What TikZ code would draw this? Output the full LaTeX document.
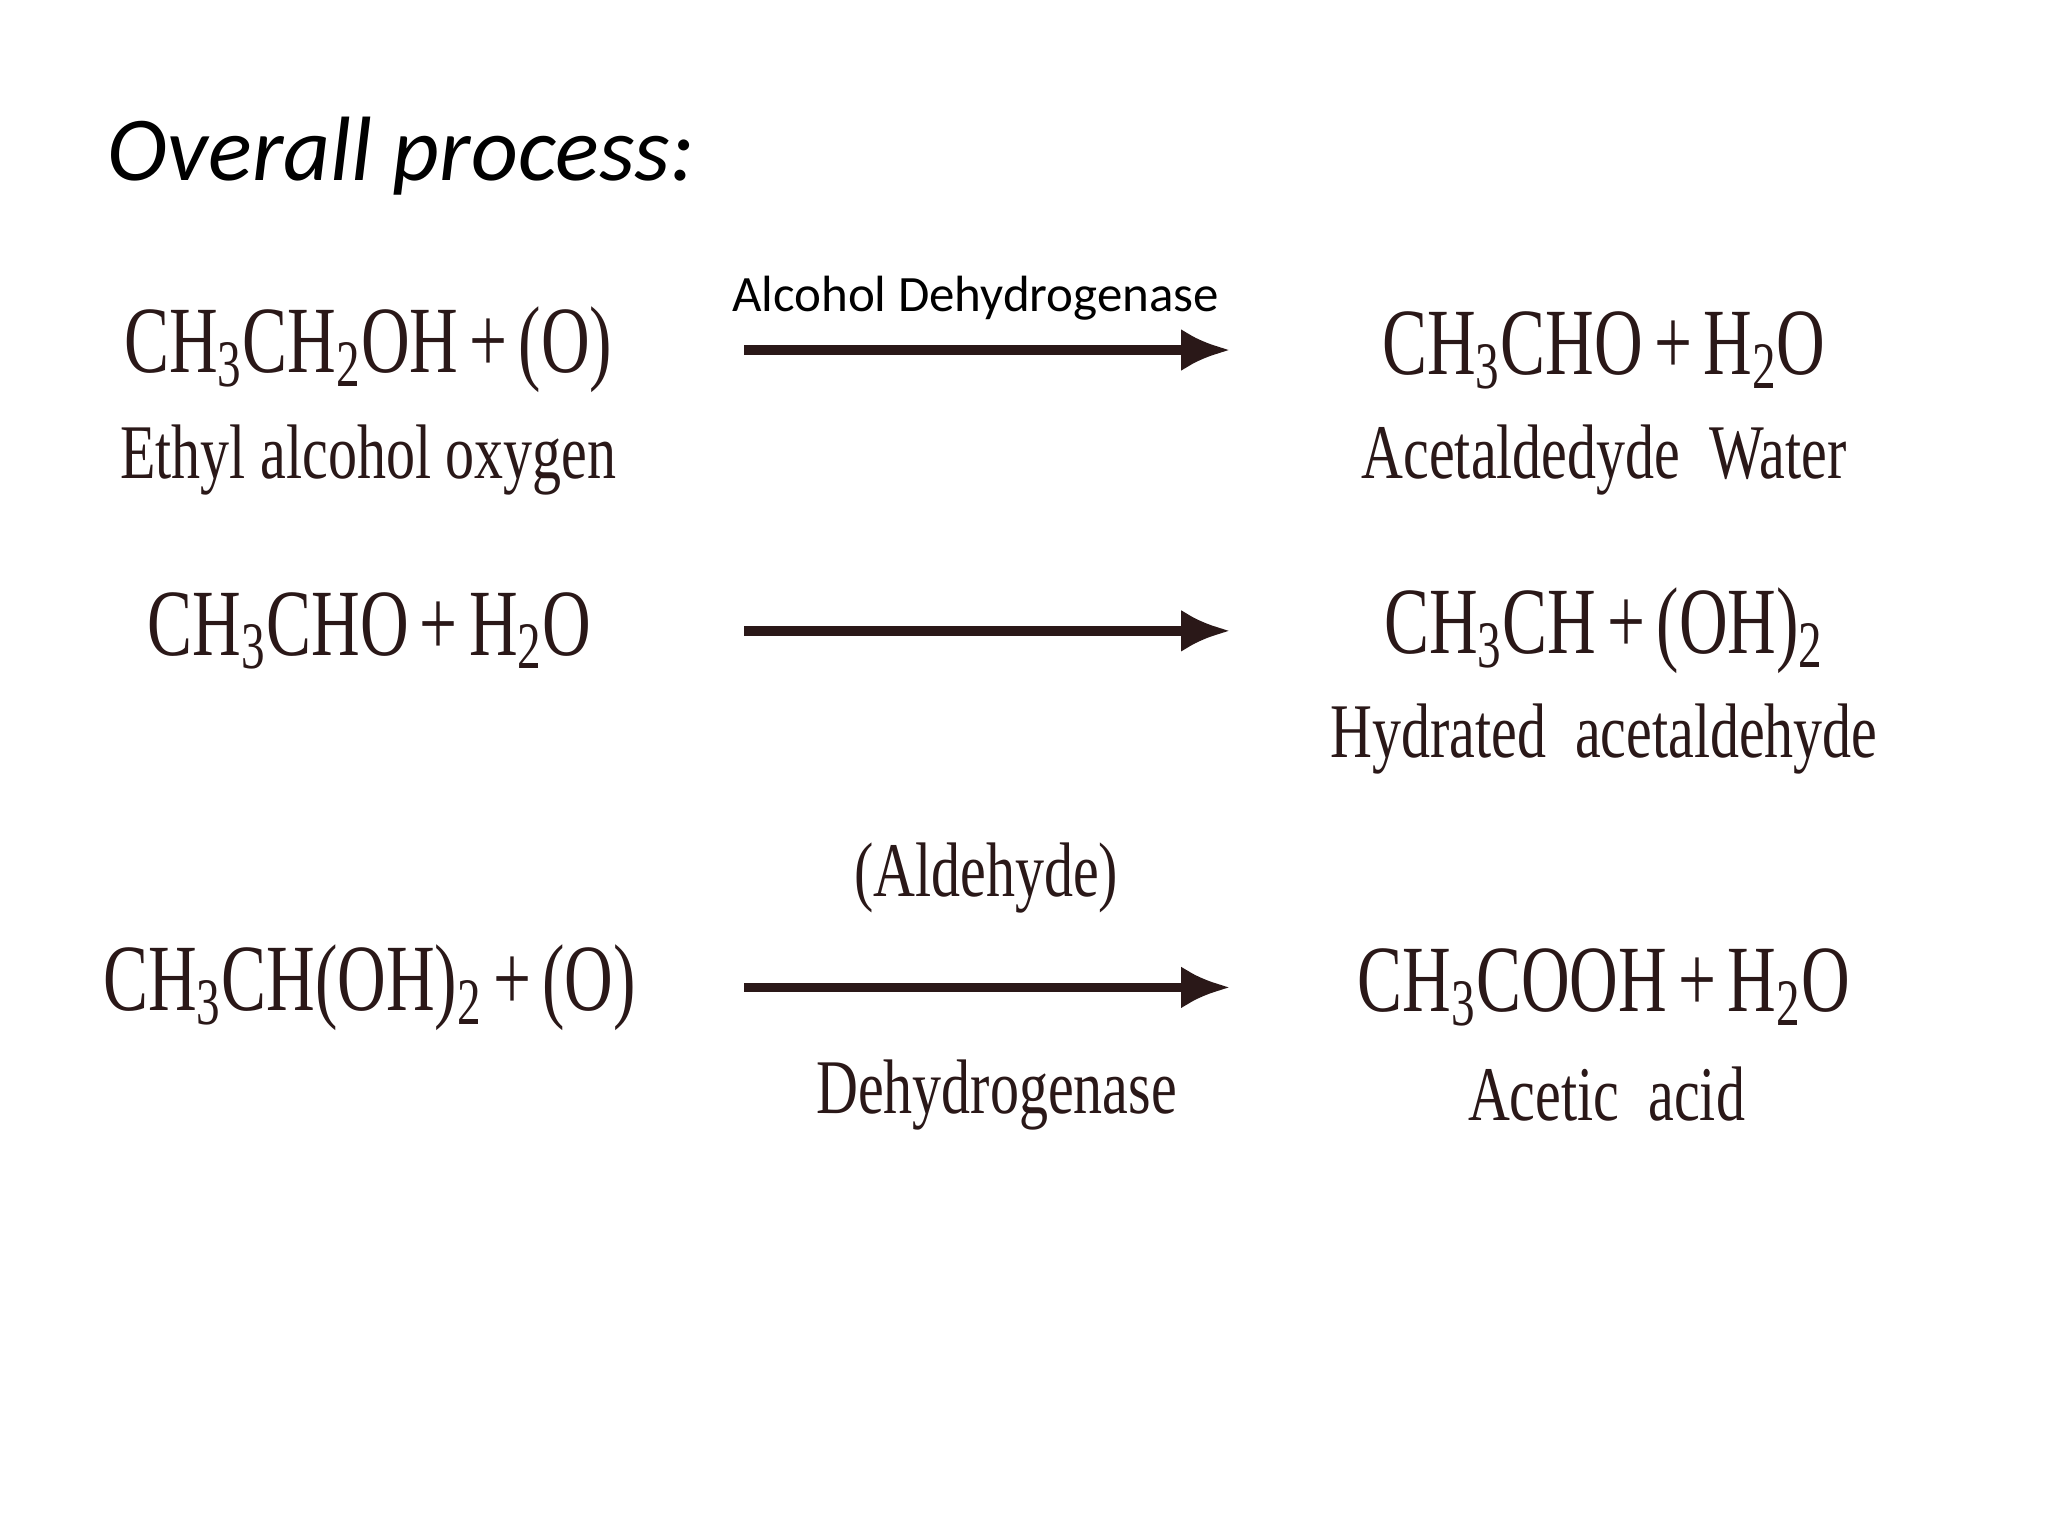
\documentclass[tikz,border=0pt]{standalone}
\usepackage{fontspec}
\usetikzlibrary{arrows.meta}
\setmainfont{Liberation Serif}
\newfontfamily\calfont{Carlito}
\begin{document}
\begin{tikzpicture}[x=0.013061cm,y=-0.013061cm]
\definecolor{ink}{HTML}{2A1818}
\tikzset{chem/.style={text=ink,font=\fontsize{27}{30}\selectfont,xscale=0.71,inner sep=0},
lab/.style={text=ink,font=\fontsize{22}{26}\selectfont,xscale=0.75,inner sep=0},
rx/.style={draw=ink,line width=2.8pt,-{Latex[length=14pt,width=12pt]}}}
\useasboundingbox[fill=white] (0,0) rectangle (1568,1176);
\node[anchor=base west,font=\calfont\itshape\fontsize{26}{30}\selectfont,inner sep=0] (title) at (82,138) {Overall process:};
\node[chem] (r1) at (282,268) {CH\textsubscript{3}CH\textsubscript{2}OH\,+\,(O)};
\node[lab] (r1l) at (282,352) {Ethyl alcohol oxygen};
\node[chem] (p1) at (1228,268) {CH\textsubscript{3}CHO\,+\,H\textsubscript{2}O};
\node[lab] (p1l) at (1228,352) {Acetaldedyde\ \ Water};
\node[chem] (r2) at (283,483) {CH\textsubscript{3}CHO\,+\,H\textsubscript{2}O};
\node[chem] (p2) at (1228,483) {CH\textsubscript{3}CH\,+\,(OH)\textsubscript{2}};
\node[lab] (p2l) at (1228,566) {Hydrated\ \ acetaldehyde};
\node[chem] (r3) at (283,756) {CH\textsubscript{3}CH(OH)\textsubscript{2}\,+\,(O)};
\node[chem] (p3) at (1228,756) {CH\textsubscript{3}COOH\,+\,H\textsubscript{2}O};
\node[lab] (p3l) at (1230,838) {Acetic\ \ acid};
\node[lab] (al) at (755,672) {(Aldehyde)};
\node[lab] (dh) at (763,838) {Dehydrogenase};
\node[font=\calfont\fontsize{14.5}{17}\selectfont,inner sep=0] (adh) at (747,228) {Alcohol Dehydrogenase};
\coordinate (a1) at (570,268); \coordinate (b1) at (942,268);
\coordinate (a2) at (570,483); \coordinate (b2) at (942,483);
\coordinate (a3) at (570,756); \coordinate (b3) at (942,756);
\draw[rx] (a1)--(b1); \draw[rx] (a2)--(b2); \draw[rx] (a3)--(b3);
\end{tikzpicture}
\end{document}
